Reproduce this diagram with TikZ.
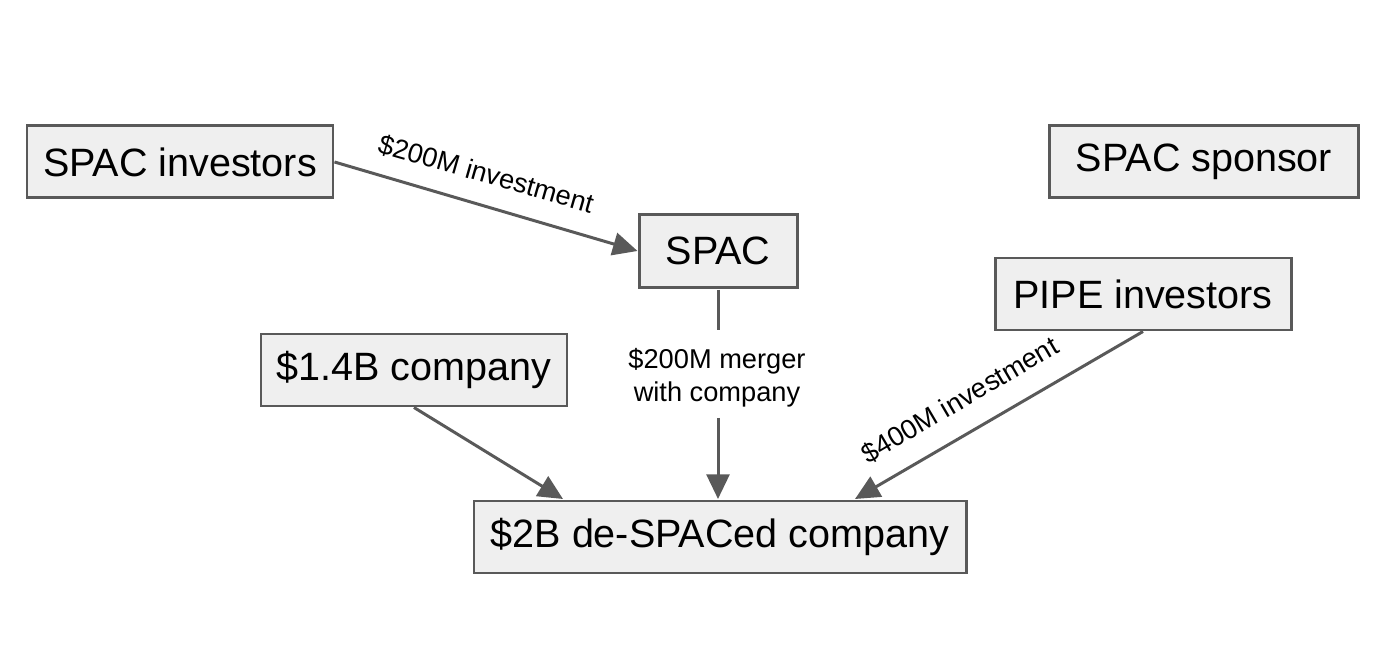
\documentclass[tikz,border=0pt]{standalone}
\usepackage{fontspec}
\setmainfont{Liberation Sans}
\usetikzlibrary{arrows.meta}
\definecolor{edge}{HTML}{595959}
\definecolor{boxfill}{HTML}{EFEFEF}
\tikzset{
  box/.style={draw=edge, fill=boxfill, line width=1.7pt, inner sep=0pt, font=\fontsize{22.5}{26}\selectfont},
  conn/.style={draw=edge, line width=1.7pt, -{Triangle[length=14pt,width=13pt]}},
  lbl/.style={font=\fontsize{15.5}{19}\selectfont, inner sep=1pt}
}
\begin{document}
\begin{tikzpicture}[x=0.02cm,y=-0.02cm]
\useasboundingbox (0,0) rectangle (1400,671);
\node[box, minimum width=306*0.02cm, minimum height=72*0.02cm] (inv) at (180,162) {SPAC investors};
\node[box, minimum width=309*0.02cm, minimum height=72*0.02cm] (spon) at (1204,162) {SPAC sponsor};
\node[box, minimum width=158*0.02cm, minimum height=73*0.02cm] (spac) at (718,251) {SPAC};
\node[box, minimum width=296*0.02cm, minimum height=72*0.02cm] (pipe) at (1143,294) {PIPE investors};
\node[box, minimum width=306*0.02cm, minimum height=72*0.02cm] (co) at (414,370) {\$1.4B company};
\node[box, minimum width=492*0.02cm, minimum height=72*0.02cm] (ds) at (720,537) {\$2B de-SPACed company};
\coordinate (dsA) at (563,499);
\coordinate (dsB) at (718,499);
\coordinate (dsC) at (855,499);
\coordinate (spacS) at (718,290);
\path[conn] (inv.east) -- (spac.west);
\node[lbl, rotate=-16] (l1) at (486,174) {\$200M investment};
\path[conn] (co.south) -- (dsA);
\draw[edge, line width=1.7pt] (spacS) -- (718,330);
\path[conn] (718,418) -- (dsB);
\node[lbl, align=center] (l2) at (717,378) {\$200M merger\\with company};
\path[conn] (pipe.south) -- (dsC);
\node[lbl, rotate=30.4] (l3) at (960,400) {\$400M investment};
\end{tikzpicture}
\end{document}
